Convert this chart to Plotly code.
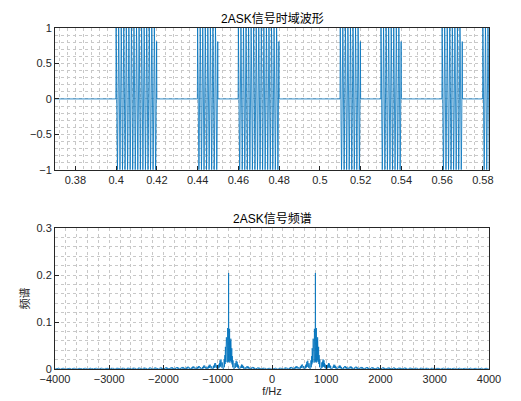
import numpy as np
import plotly.graph_objects as go
from plotly.subplots import make_subplots

fs = 8000
fc = 800
Tb = 0.01
t_start = 0.37
bits = [0,0,0,1,1,0,0,1,0,1,1,0,0,0,1,0,1,0,0,1,0,1]

n_per = int(Tb*fs)
base = np.repeat(bits, n_per).astype(float)
t = t_start + np.arange(len(base))/fs
s = base*np.cos(2*np.pi*fc*t)
N = len(s)
S = np.abs(np.fft.fftshift(np.fft.fft(s)))/N
f = (np.arange(N)-N//2)*fs/N

fig = make_subplots(rows=2, cols=1, vertical_spacing=0.17,
                    subplot_titles=("2ASK信号时域波形", "2ASK信号频谱"))
c = '#0072BD'
fig.add_trace(go.Scatter(x=t, y=s, mode='lines', line=dict(color=c, width=0.8)), 1, 1)
fig.add_trace(go.Scatter(x=f, y=S, mode='lines', line=dict(color=c, width=0.8)), 2, 1)

mg = dict(showgrid=True, gridcolor='#c8c8c8', griddash='dot', gridwidth=0.6)
ax = dict(showline=True, linecolor='#262626', mirror=True, ticks='inside', ticklen=4,
          tickcolor='#262626', showgrid=True, gridcolor='#c8c8c8', griddash='dot', gridwidth=0.6,
          zeroline=False, automargin=False, tickfont=dict(size=11, color='#262626'))
fig.update_xaxes(**ax)
fig.update_yaxes(**ax)
fig.update_xaxes(range=[0.37, 0.583], dtick=0.02, minor=dict(dtick=0.004, **mg), row=1, col=1)
fig.update_yaxes(range=[-1, 1], dtick=0.5, minor=dict(dtick=0.1, **mg), row=1, col=1)
fig.update_xaxes(range=[-4000, 4000], dtick=1000, title=dict(text='f/Hz', standoff=0, font=dict(size=11)),
                 minor=dict(dtick=200, **mg), row=2, col=1)
fig.update_yaxes(range=[0, 0.3], dtick=0.1, title=dict(text='频谱', standoff=4, font=dict(size=11)),
                 minor=dict(dtick=0.02, **mg), row=2, col=1)
fig.layout.yaxis.domain = [0.584, 1]
fig.layout.yaxis2.domain = [0, 0.413]
for a in fig.layout.annotations:
    a.font = dict(size=12, color='#000')
fig.layout.annotations[0].y = 1.0
fig.layout.annotations[1].y = 0.413
fig.update_layout(width=521, height=401, margin=dict(l=47, r=40, t=20, b=40),
                  plot_bgcolor='white', paper_bgcolor='white', showlegend=False,
                  font=dict(family='Liberation Sans, Noto Sans CJK SC', color='#262626'))
fig.write_html("out.html")
